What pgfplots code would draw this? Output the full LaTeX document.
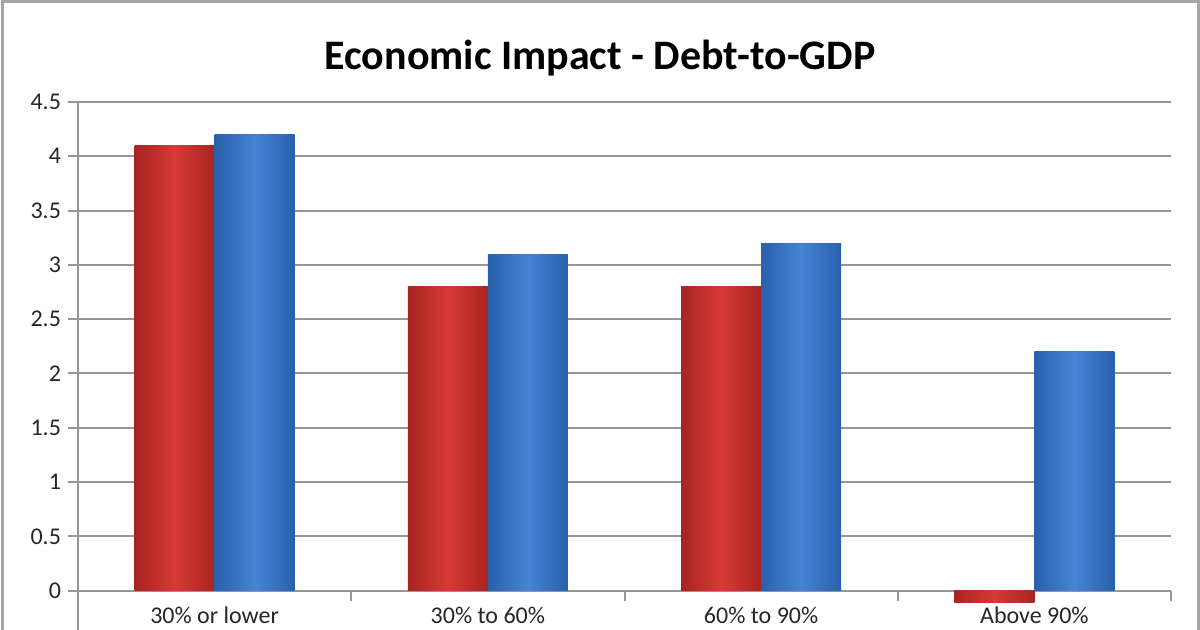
\documentclass[border=0pt]{standalone}
\usepackage{fontspec}
\setmainfont{Carlito}
\usepackage{pgfplots}
\pgfplotsset{compat=1.18}

\definecolor{redEdge}{RGB}{168,36,34}
\definecolor{redMid}{RGB}{214,58,52}
\definecolor{blueEdge}{RGB}{40,96,172}
\definecolor{blueMid}{RGB}{70,132,212}
\definecolor{gridGray}{RGB}{150,150,150}

\begin{document}
\begin{tikzpicture}[x=1pt,y=1pt]
\useasboundingbox (0,0) rectangle (600,315);
\clip (0,0) rectangle (600,315);
\draw[black!35, line width=1.5pt] (1,-5) -- (1,314) -- (599,314) -- (599,-5);
\node[anchor=base, font=\bfseries\fontsize{21}{25}\selectfont] at (300,280) {Economic Impact - Debt-to-GDP};
\begin{axis}[
    at={(39pt,-7.5pt)}, anchor=south west,
    scale only axis,
    width=546.5pt, height=271.5pt,
    xmin=-0.5, xmax=3.5,
    ymin=-0.5, ymax=4.5,
    axis y line=left,
    axis x line=middle,
    axis line style={draw=gridGray, line width=1pt, -},
    tick align=outside,
    xtick={0,1,2,3},
    xticklabels={30\% or lower, 30\% to 60\%, 60\% to 90\%, Above 90\%},
    xticklabel style={yshift=0.5pt},
    minor xtick={-0.5,0.5,1.5,2.5,3.5},
    major x tick style={draw=none},
    minor x tick style={draw=gridGray, line width=1pt},
    minor tick length=5pt,
    ytick={0,0.5,...,4.5},
    major tick length=5pt,
    ytick style={draw=gridGray, line width=1pt},
    ymajorgrids=true,
    grid style={draw=gridGray, line width=1pt},
    ticklabel style={font=\fontsize{12}{14}\selectfont, text=black!85},
    /pgf/number format/assume math mode=true,
    bar width=40pt,
    redbar/.style={ybar, bar shift=-20pt, draw=none,
        left color=redEdge, right color=redEdge, middle color=redMid},
    bluebar/.style={ybar, bar shift=20pt, draw=none,
        left color=blueEdge, right color=blueEdge, middle color=blueMid},
    clip=false,
]
% one plot per bar so that each bar gets its own shading
\addplot[redbar] coordinates {(0,4.1)};
\addplot[redbar] coordinates {(1,2.8)};
\addplot[redbar] coordinates {(2,2.8)};
\addplot[redbar] coordinates {(3,-0.11)};
\addplot[bluebar] coordinates {(0,4.2)};
\addplot[bluebar] coordinates {(1,3.1)};
\addplot[bluebar] coordinates {(2,3.2)};
\addplot[bluebar] coordinates {(3,2.2)};
\end{axis}
\end{tikzpicture}
\end{document}
